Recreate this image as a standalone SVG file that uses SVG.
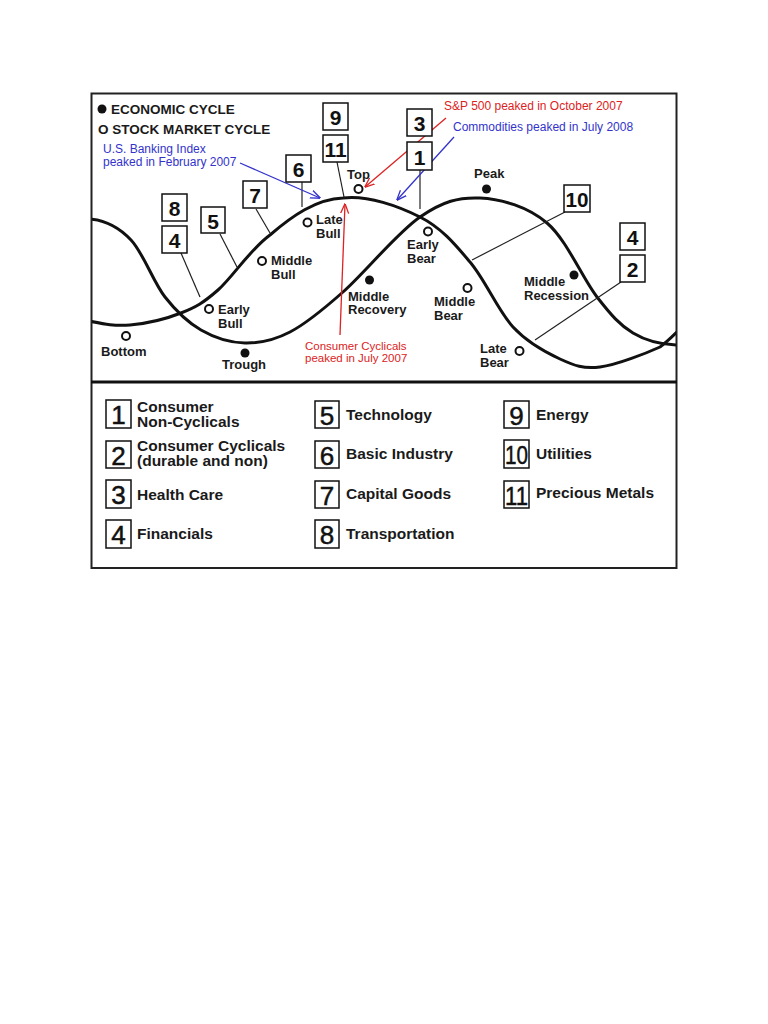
<svg xmlns="http://www.w3.org/2000/svg" width="768" height="1024" viewBox="0 0 768 1024">
<style>
.lbl{font-family:"Liberation Sans",Arial,sans-serif;font-weight:bold;font-size:13px;fill:#1a1a1a}
.hdr{font-family:"Liberation Sans",Arial,sans-serif;font-weight:bold;font-size:13.5px;fill:#1a1a1a}
.ann{font-family:"Liberation Sans",Arial,sans-serif;font-size:12px}
.blue{fill:#3333cc}
.red{fill:#dd2222}
.box{fill:#fff;stroke:#111;stroke-width:1.5}
.bn{font-family:"Liberation Sans",Arial,sans-serif;font-weight:bold;font-size:21px;fill:#111;text-anchor:middle}
.ln{font-family:"Liberation Sans",Arial,sans-serif;font-size:26px;fill:#111;text-anchor:middle;stroke:#111;stroke-width:0.5}
.lt{font-family:"Liberation Sans",Arial,sans-serif;font-weight:bold;font-size:15.5px;fill:#1a1a1a}
.curve{fill:none;stroke:#111;stroke-width:3}
.lead{fill:none;stroke:#222;stroke-width:1.2}
.oc{fill:#fff;stroke:#111;stroke-width:2}
.dot{fill:#111}
</style>
<defs>
<marker id="ab" viewBox="0 0 10 10" refX="9.5" refY="5" markerWidth="10" markerHeight="10" markerUnits="userSpaceOnUse" orient="auto"><path d="M0,1 L10,5 L0,9" fill="none" stroke="#3333cc" stroke-width="1.3"/></marker>
<marker id="ar" viewBox="0 0 10 10" refX="9.5" refY="5" markerWidth="10" markerHeight="10" markerUnits="userSpaceOnUse" orient="auto"><path d="M0,1 L10,5 L0,9" fill="none" stroke="#dd2222" stroke-width="1.3"/></marker>
<clipPath id="clip"><rect x="92" y="94" width="584" height="287"/></clipPath>
</defs>
<rect width="768" height="1024" fill="#fff"/>
<rect x="91.5" y="93.5" width="585" height="474.5" fill="#fff" stroke="#222" stroke-width="2"/>
<line x1="91" y1="382" x2="677" y2="382" stroke="#111" stroke-width="3"/>

<g id="curves" clip-path="url(#clip)">
<path id="economic-cycle" class="curve" d="M89,219 C105,220 118.7,227 131,240 C143.3,253 153.3,282 165,297 C176.7,312 187.7,322.3 201,330 C214.3,337.7 230.2,342.7 245,343 C259.8,343.3 273.7,340.5 290,332 C306.3,323.5 321.3,311.2 343,292 C364.7,272.8 397.2,232.7 420,217 C442.8,201.3 458.8,197 480,198 C501.2,199 527.5,206.5 547,223 C566.5,239.5 582.7,278.7 597,297 C611.3,315.3 619.7,325 633,333 C646.3,341 662,345 680,345"/>
<path id="stock-cycle" class="curve" d="M89,321 C104,324 115,326.3 130,325 C145,323.7 166.3,318.8 181,313 C195.7,307.2 203.2,303 218,290 C232.8,277 249.2,250.3 270,235 C292,216 316,199 343,198 C368,195 398.8,206.3 420,217 C441.2,227.7 454.5,243.7 470,262 C485.5,280.3 498,310.8 513,327 C528,343.2 545.5,352.3 560,359 C574.5,365.7 583.3,369 600,367 C616.7,365 647.2,352.8 660,347 C667,342 673,336 680,329"/>
</g>

<g id="legend-top">
<circle cx="102" cy="109" r="4.5" class="dot"/>
<text x="111" y="114" class="hdr">ECONOMIC CYCLE</text>
<text x="98" y="134" class="hdr">O STOCK MARKET CYCLE</text>
</g>

<g id="connectors">
<line class="lead" x1="181" y1="253" x2="200" y2="297"/>
<line class="lead" x1="220" y1="234" x2="237" y2="267"/>
<line class="lead" x1="256" y1="209" x2="270" y2="233"/>
<line class="lead" x1="302" y1="182" x2="302" y2="207"/>
<line class="lead" x1="337" y1="162" x2="344" y2="197"/>
<line class="lead" x1="420" y1="170" x2="420" y2="209"/>
<line class="lead" x1="565" y1="212" x2="472" y2="260"/>
<line class="lead" x1="621" y1="282" x2="535" y2="340"/>
<line x1="240" y1="163" x2="320" y2="198" stroke="#3333cc" stroke-width="1.3" marker-end="url(#ab)"/>
<line x1="454" y1="137" x2="397" y2="200" stroke="#3333cc" stroke-width="1.3" marker-end="url(#ab)"/>
<line x1="446" y1="118" x2="365" y2="187" stroke="#dd2222" stroke-width="1.3" marker-end="url(#ar)"/>
<line x1="340" y1="335" x2="345" y2="204" stroke="#dd2222" stroke-width="1.3" marker-end="url(#ar)"/>
</g>

<g id="annotations">
<text class="ann blue" x="103" y="153">U.S. Banking Index</text>
<text class="ann blue" x="103" y="166">peaked in February 2007</text>
<text class="ann red" x="444" y="110">S&amp;P 500 peaked in October 2007</text>
<text class="ann blue" x="453" y="131">Commodities peaked in July 2008</text>
<text class="ann red" x="305" y="350" style="font-size:11.5px">Consumer Cyclicals</text>
<text class="ann red" x="305" y="362" style="font-size:11.5px">peaked in July 2007</text>
</g>

<g id="node-bottom"><circle class="oc" cx="126" cy="336" r="4"/><text class="lbl" x="101" y="356">Bottom</text></g>
<g id="node-early-bull"><circle class="oc" cx="209" cy="309" r="4"/><text class="lbl" x="218" y="314">Early</text><text class="lbl" x="218" y="327.5">Bull</text></g>
<g id="node-middle-bull"><circle class="oc" cx="262" cy="261" r="4"/><text class="lbl" x="271" y="265">Middle</text><text class="lbl" x="271" y="278.5">Bull</text></g>
<g id="node-late-bull"><circle class="oc" cx="307.5" cy="222.5" r="4"/><text class="lbl" x="316" y="224">Late</text><text class="lbl" x="316" y="237.5">Bull</text></g>
<g id="node-top"><text class="lbl" x="347" y="179">Top</text><circle class="oc" cx="358.5" cy="189" r="4"/></g>
<g id="node-trough"><circle class="dot" cx="245" cy="353" r="4.5"/><text class="lbl" x="222" y="369">Trough</text></g>
<g id="node-middle-recovery"><circle class="dot" cx="369.5" cy="280" r="4.5"/><text class="lbl" x="348" y="300.5">Middle</text><text class="lbl" x="348" y="314">Recovery</text></g>
<g id="node-early-bear"><circle class="oc" cx="428" cy="231.5" r="4"/><text class="lbl" x="407" y="249">Early</text><text class="lbl" x="407" y="262.5">Bear</text></g>
<g id="node-middle-bear"><circle class="oc" cx="467.5" cy="288" r="4"/><text class="lbl" x="434" y="306">Middle</text><text class="lbl" x="434" y="319.5">Bear</text></g>
<g id="node-peak"><text class="lbl" x="474" y="178">Peak</text><circle class="dot" cx="486.5" cy="189" r="4.5"/></g>
<g id="node-middle-recession"><circle class="dot" cx="574" cy="275" r="4.5"/><text class="lbl" x="524" y="286">Middle</text><text class="lbl" x="524" y="299.5">Recession</text></g>
<g id="node-late-bear"><circle class="oc" cx="519.5" cy="351" r="4"/><text class="lbl" x="480" y="353">Late</text><text class="lbl" x="480" y="367">Bear</text></g>

<g id="box-9"><rect class="box" x="323" y="103" width="25" height="27"/><text class="bn" x="335.5" y="125">9</text></g>
<g id="box-11"><rect class="box" x="323" y="135" width="25" height="27"/><text class="bn" x="335.5" y="157">11</text></g>
<g id="box-6"><rect class="box" x="286" y="155" width="25" height="27"/><text class="bn" x="298.5" y="177">6</text></g>
<g id="box-7"><rect class="box" x="243" y="181" width="24" height="27"/><text class="bn" x="255" y="203">7</text></g>
<g id="box-8"><rect class="box" x="162" y="194" width="25" height="27"/><text class="bn" x="174.5" y="216">8</text></g>
<g id="box-5"><rect class="box" x="201" y="207" width="24" height="26"/><text class="bn" x="213" y="228.5">5</text></g>
<g id="box-4a"><rect class="box" x="162" y="226" width="25" height="27"/><text class="bn" x="174.5" y="248">4</text></g>
<g id="box-3"><rect class="box" x="407" y="109" width="25" height="27"/><text class="bn" x="419.5" y="131">3</text></g>
<g id="box-1"><rect class="box" x="407" y="142" width="25" height="28"/><text class="bn" x="419.5" y="164.5">1</text></g>
<g id="box-10"><rect class="box" x="564" y="185" width="26" height="27"/><text class="bn" x="577" y="207" textLength="23" lengthAdjust="spacingAndGlyphs">10</text></g>
<g id="box-4b"><rect class="box" x="620" y="223" width="25" height="27"/><text class="bn" x="632.5" y="245">4</text></g>
<g id="box-2"><rect class="box" x="620" y="255" width="25" height="27"/><text class="bn" x="632.5" y="277">2</text></g>

<g id="legend-1"><rect class="box" x="106" y="400" width="25" height="28"/><text class="ln" x="118.5" y="424">1</text><text class="lt" x="137" y="412">Consumer</text><text class="lt" x="137" y="427">Non-Cyclicals</text></g>
<g id="legend-2"><rect class="box" x="106" y="441" width="25" height="27"/><text class="ln" x="118.5" y="464.5">2</text><text class="lt" x="137" y="451">Consumer Cyclicals</text><text class="lt" x="137" y="466">(durable and non)</text></g>
<g id="legend-3"><rect class="box" x="106" y="480" width="25" height="28"/><text class="ln" x="118.5" y="504">3</text><text class="lt" x="137" y="499.5">Health Care</text></g>
<g id="legend-4"><rect class="box" x="106" y="520" width="25" height="28"/><text class="ln" x="118.5" y="544">4</text><text class="lt" x="137" y="538.5">Financials</text></g>
<g id="legend-5"><rect class="box" x="315" y="401" width="24" height="27"/><text class="ln" x="327" y="424.5">5</text><text class="lt" x="346" y="420">Technology</text></g>
<g id="legend-6"><rect class="box" x="315" y="441" width="24" height="27"/><text class="ln" x="327" y="464.5">6</text><text class="lt" x="346" y="459">Basic Industry</text></g>
<g id="legend-7"><rect class="box" x="315" y="481" width="24" height="27"/><text class="ln" x="327" y="504.5">7</text><text class="lt" x="346" y="498.5">Capital Goods</text></g>
<g id="legend-8"><rect class="box" x="315" y="520" width="24" height="28"/><text class="ln" x="327" y="544">8</text><text class="lt" x="346" y="539">Transportation</text></g>
<g id="legend-9"><rect class="box" x="504" y="401" width="25" height="27"/><text class="ln" x="516.5" y="424.5">9</text><text class="lt" x="536" y="420">Energy</text></g>
<g id="legend-10"><rect class="box" x="504" y="440" width="25" height="28"/><text class="ln" x="516.5" y="464" textLength="23" lengthAdjust="spacingAndGlyphs">10</text><text class="lt" x="536" y="459">Utilities</text></g>
<g id="legend-11"><rect class="box" x="504" y="481" width="25" height="27"/><text class="ln" x="516.5" y="504.5" textLength="23" lengthAdjust="spacingAndGlyphs">11</text><text class="lt" x="536" y="497.5">Precious Metals</text></g>
</svg>
